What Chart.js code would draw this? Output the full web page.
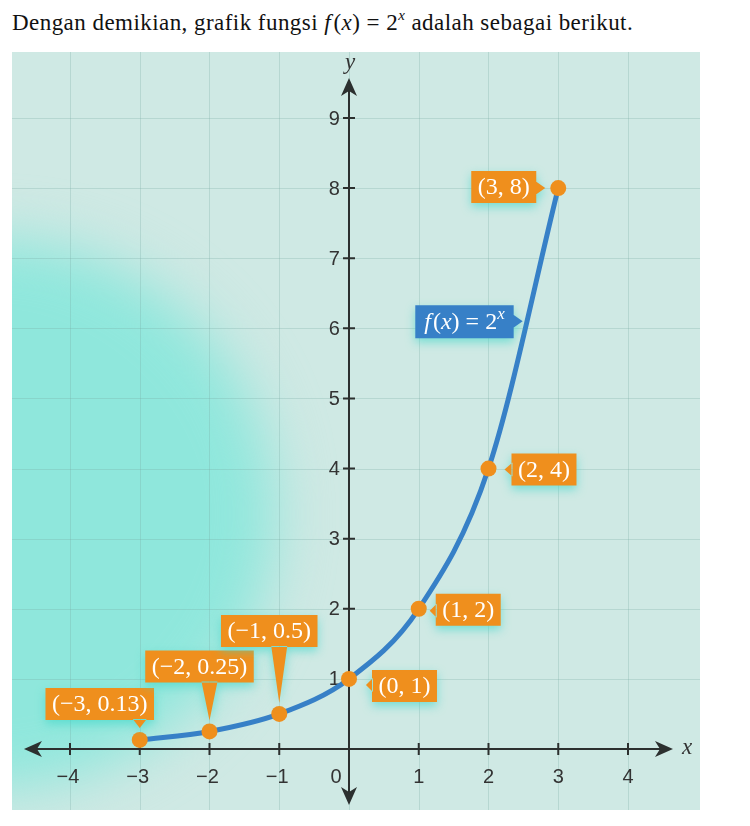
<!DOCTYPE html>
<html>
<head>
<meta charset="utf-8">
<title>Grafik fungsi f(x) = 2^x</title>
<script src="https://cdn.jsdelivr.net/npm/chart.js"></script>
<style>
  body { margin: 0; background: #fff; width: 750px; height: 826px; position: relative; overflow: hidden; }
  #title { position: absolute; left: 12px; top: 8px; font-family: "Liberation Serif", serif; font-size: 23px; letter-spacing: 0.45px; color: #111; white-space: nowrap; }
  #title sup { font-size: 15px; position: relative; top: -1px; }
  #wrap { position: absolute; left: 12px; top: 52px; width: 688px; height: 758px; }
</style>
</head>
<body>
<div id="title">Dengan demikian, grafik fungsi <i>f</i>&#8202;(<i>x</i>) = 2<sup><i>x</i></sup> adalah sebagai berikut.</div>
<div id="wrap"><canvas id="graph"></canvas></div>

<script>
const xValues = [-3, -2, -1, 0, 1, 2, 3];
const yValues = [0.13, 0.25, 0.5, 1, 2, 4, 8];
const pointLabels = ['(−3, 0.13)', '(−2, 0.25)', '(−1, 0.5)', '(0, 1)', '(1, 2)', '(2, 4)', '(3, 8)'];
const xTicks = [-4, -3, -2, -1, 1, 2, 3, 4];
const yTicks = [1, 2, 3, 4, 5, 6, 7, 8, 9];

const ORANGE = '#ef8f1d';
const BLUE = '#3780c7';
const INK = '#2c302f';

// where each callout box sits relative to its point
const callouts = [
  { side: 'up', ox: -40, oy: -20, tx: 0, ty: -12, hw: 7 },
  { side: 'up', ox: -10, oy: -49, tx: 0, ty: -11, hw: 8 },
  { side: 'up', ox: -10, oy: -67, tx: 0, ty: -11, hw: 8 },
  { side: 'right', ox: 23, oy: -9, tx: 17, ty: 6 },
  { side: 'right', ox: 17, oy: -15, tx: 11, ty: 2 },
  { side: 'right', ox: 23, oy: -15, tx: 16, ty: 1 },
  { side: 'left', ox: -22, oy: -17, tx: -13, ty: 0 }
];

function arrowHead(ctx, x, y, dx, dy) {
  const L = 18, W = 8, N = 5;
  const nx = -dy, ny = dx;
  ctx.beginPath();
  ctx.moveTo(x, y);
  ctx.lineTo(x - dx * L + nx * W, y - dy * L + ny * W);
  ctx.lineTo(x - dx * (L - N), y - dy * (L - N));
  ctx.lineTo(x - dx * L - nx * W, y - dy * L - ny * W);
  ctx.closePath();
  ctx.fill();
}

const paper = {
  id: 'paper',
  beforeDraw(chart) {
    const { ctx, chartArea: a, scales: { x, y } } = chart;
    ctx.save();
    ctx.fillStyle = '#cfe9e4';
    ctx.fillRect(a.left, a.top, a.right - a.left, a.bottom - a.top);

    ctx.beginPath();
    ctx.rect(a.left, a.top, a.right - a.left, a.bottom - a.top);
    ctx.clip();
    ctx.filter = 'blur(28px)';
    ctx.fillStyle = '#8fe7dc';
    ctx.beginPath();
    ctx.ellipse(a.left - 22, a.top + 462, 285, 275, 0, 0, Math.PI * 2);
    ctx.fill();
    ctx.filter = 'none';

    // grid
    ctx.strokeStyle = 'rgba(120,170,160,0.28)';
    ctx.lineWidth = 1;
    for (let v = -4; v <= 4; v++) {
      const px = Math.round(x.getPixelForValue(v)) + 0.5;
      ctx.beginPath(); ctx.moveTo(px, a.top); ctx.lineTo(px, a.bottom); ctx.stroke();
    }
    for (let v = 1; v <= 9; v++) {
      const py = Math.round(y.getPixelForValue(v)) + 0.5;
      ctx.beginPath(); ctx.moveTo(a.left, py); ctx.lineTo(a.right, py); ctx.stroke();
    }

    // axes
    const x0 = x.getPixelForValue(0), y0 = y.getPixelForValue(0);
    const xl = x.getPixelForValue(-4.66), xr = x.getPixelForValue(4.645);
    const yt = y.getPixelForValue(9.57), yb = y.getPixelForValue(-0.8);
    ctx.strokeStyle = INK;
    ctx.fillStyle = INK;
    ctx.lineWidth = 2;
    ctx.beginPath();
    ctx.moveTo(xl + 6, y0); ctx.lineTo(xr - 6, y0);
    ctx.moveTo(x0, yt + 6); ctx.lineTo(x0, yb - 6);
    ctx.stroke();
    arrowHead(ctx, xl, y0, -1, 0);
    arrowHead(ctx, xr, y0, 1, 0);
    arrowHead(ctx, x0, yt, 0, -1);
    arrowHead(ctx, x0, yb, 0, 1);

    ctx.font = '20px "Liberation Sans", Arial, sans-serif';
    ctx.fillStyle = '#333';
    ctx.textAlign = 'center';
    ctx.textBaseline = 'middle';
    ctx.beginPath();
    xTicks.forEach(v => {
      const px = x.getPixelForValue(v);
      ctx.moveTo(px, y0 - 6); ctx.lineTo(px, y0 + 6);
      ctx.fillText(v < 0 ? '−' + Math.abs(v) : String(v), px - (v < 0 ? 2 : 0), y0 + 28);
    });
    ctx.fillText('0', x0 - 13, y0 + 28);
    ctx.textAlign = 'right';
    yTicks.forEach(v => {
      const py = y.getPixelForValue(v);
      ctx.moveTo(x0 - 6, py); ctx.lineTo(x0 + 6, py);
      ctx.fillText(String(v), x0 - 9, py + 1);
    });
    ctx.stroke();

    ctx.font = 'italic 23px "Liberation Serif", serif';
    ctx.textAlign = 'center';
    ctx.fillText('x', xr + 14, y0 - 1);
    ctx.fillText('y', x0 + 1, yt - 15);
    ctx.restore();
  },
  afterDatasetsDraw(chart) {
    const { ctx, scales: { x, y } } = chart;
    const pts = chart.getDatasetMeta(0).data;
    ctx.save();
    ctx.font = '24px "Liberation Serif", serif';
    ctx.textBaseline = 'middle';
    ctx.textAlign = 'center';
    const H = 32;

    pts.forEach((p, i) => {
      const c = callouts[i];
      const w = ctx.measureText(pointLabels[i]).width + 13;
      let bx, by;
      if (c.side === 'up') { bx = p.x + c.ox - w / 2; by = p.y + c.oy - H; }
      else if (c.side === 'right') { bx = p.x + c.ox; by = p.y + c.oy; }
      else { bx = p.x + c.ox - w; by = p.y + c.oy; }
      const tipX = p.x + c.tx, tipY = p.y + c.ty;

      ctx.fillStyle = ORANGE;
      ctx.shadowColor = 'rgba(60,215,200,0.6)';
      ctx.shadowBlur = 10;
      ctx.shadowOffsetY = 4;
      ctx.beginPath();
      ctx.rect(bx, by, w, H);
      if (c.side === 'up') {
        ctx.moveTo(p.x - c.hw, by + H - 1);
        ctx.lineTo(tipX, tipY);
        ctx.lineTo(p.x + c.hw, by + H - 1);
      } else if (c.side === 'right') {
        ctx.moveTo(bx + 1, tipY - 7);
        ctx.lineTo(tipX, tipY);
        ctx.lineTo(bx + 1, tipY + 7);
      } else {
        ctx.moveTo(bx + w - 1, tipY - 7);
        ctx.lineTo(tipX, tipY);
        ctx.lineTo(bx + w - 1, tipY + 7);
      }
      ctx.fill();
      ctx.shadowColor = 'transparent';
      ctx.fillStyle = '#fff';
      ctx.fillText(pointLabels[i], bx + w / 2, by + H / 2 + 1);
    });

    // series name callout, pointing at the curve
    const tipX = x.getPixelForValue(2.49), tipY = y.getPixelForValue(6.1);
    const parts = [
      { t: 'f', f: 'italic 24px "Liberation Serif", serif', dy: 0 },
      { t: '(', f: '24px "Liberation Serif", serif', dy: 0 },
      { t: 'x', f: 'italic 24px "Liberation Serif", serif', dy: 0 },
      { t: ') = 2', f: '24px "Liberation Serif", serif', dy: 0 },
      { t: 'x', f: 'italic 17px "Liberation Serif", serif', dy: -8 }
    ];
    let tw = 0;
    parts.forEach(s => { ctx.font = s.f; s.w = ctx.measureText(s.t).width; tw += s.w + (s.t === 'f' ? 2 : 0); });
    const w = tw + 18, bx = tipX - 9 - w, by = tipY - 16;
    ctx.fillStyle = BLUE;
    ctx.shadowColor = 'rgba(60,215,200,0.6)';
    ctx.shadowBlur = 10;
    ctx.shadowOffsetY = 4;
    ctx.beginPath();
    ctx.rect(bx, by, w, 33);
    ctx.moveTo(bx + w - 1, tipY - 7);
    ctx.lineTo(tipX, tipY);
    ctx.lineTo(bx + w - 1, tipY + 7);
    ctx.fill();
    ctx.shadowColor = 'transparent';
    ctx.fillStyle = '#fff';
    ctx.textAlign = 'left';
    let cx = bx + 9;
    parts.forEach(s => {
      ctx.font = s.f;
      ctx.fillText(s.t, cx, by + 17 + s.dy);
      cx += s.w + (s.t === 'f' ? 2 : 0);
    });
    ctx.restore();
  }
};

new Chart(document.getElementById('graph'), {
  type: 'scatter',
  data: {
    datasets: [{
      data: xValues.map((v, i) => ({ x: v, y: yValues[i] })),
      showLine: true,
      borderColor: BLUE,
      borderWidth: 5,
      cubicInterpolationMode: 'monotone',
      pointRadius: 8,
      pointHoverRadius: 8,
      pointBackgroundColor: ORANGE,
      pointBorderWidth: 0
    }]
  },
  options: {
    responsive: true,
    maintainAspectRatio: false,
    animation: false,
    layout: { padding: 0, autoPadding: false },
    plugins: { legend: { display: false }, tooltip: { enabled: false } },
    scales: {
      x: { type: 'linear', min: -4.8315, max: 5.0323, display: false },
      y: { type: 'linear', min: -0.8702, max: 9.9414, display: false }
    }
  },
  plugins: [paper]
});
</script>
</body>
</html>
